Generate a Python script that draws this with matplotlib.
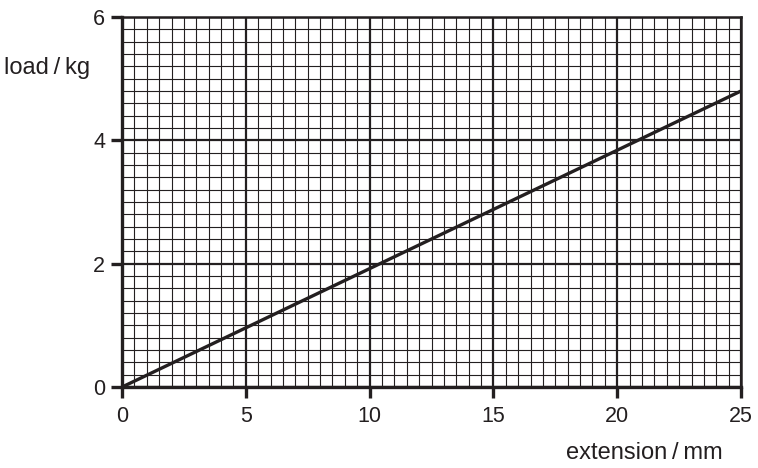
import matplotlib.pyplot as plt
from matplotlib.ticker import MultipleLocator

plt.rcParams['font.family'] = ['Liberation Sans', 'DejaVu Sans']

# data
extension = [0, 25]
load = [0, 4.8]
x_ticks = [0, 5, 10, 15, 20, 25]
y_ticks = [0, 2, 4, 6]

ink = '#231f20'

fig = plt.figure(figsize=(7.58, 4.68), dpi=100)
ax = fig.add_axes([0.161, 0.173, 0.8166, 0.7907])

ax.set_xlim(0, 25)
ax.set_ylim(0, 6)
ax.set_xticks(x_ticks)
ax.set_yticks(y_ticks)
ax.xaxis.set_minor_locator(MultipleLocator(0.5))
ax.yaxis.set_minor_locator(MultipleLocator(0.2))

ax.grid(which='minor', color=ink, linewidth=0.8)
ax.grid(which='major', color=ink, linewidth=1.6)
ax.set_axisbelow(True)

for side in ['left', 'bottom']:
    ax.spines[side].set_linewidth(2.4)
    ax.spines[side].set_color(ink)
for side in ['top', 'right']:
    ax.spines[side].set_linewidth(1.8)
    ax.spines[side].set_color(ink)

ax.tick_params(which='major', direction='out', length=8, width=2.4, color=ink,
               labelsize=15.5, labelcolor=ink)
ax.tick_params(axis='x', pad=6)
ax.tick_params(axis='y', pad=4)
ax.tick_params(which='minor', length=0)

ax.plot(extension, load, color=ink, linewidth=2.4, solid_capstyle='butt', zorder=3,
        clip_on=False)

fig.text(0.005, 0.855, 'load\u2009/\u2009kg', fontsize=17, color=ink, ha='left', va='center')
fig.text(0.953, 0.032, 'extension\u2009/\u2009mm', fontsize=17, color=ink, ha='right', va='center')

fig.savefig('out.png', dpi=100)
